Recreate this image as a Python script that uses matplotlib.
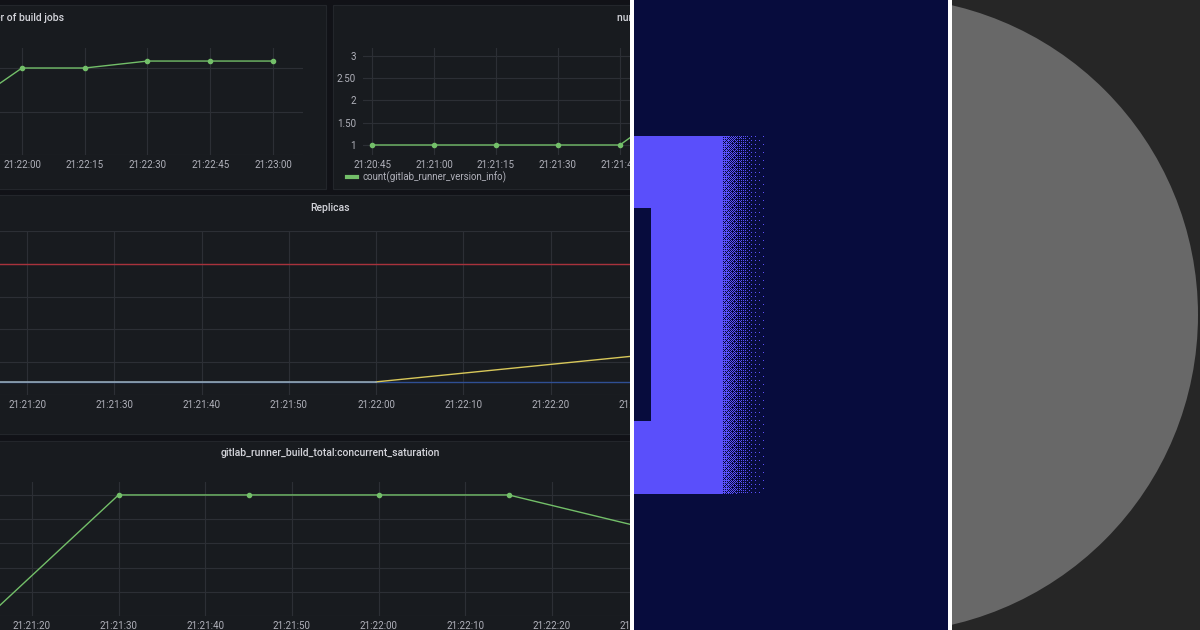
import matplotlib
matplotlib.use("Agg")
import matplotlib.pyplot as plt
import numpy as np
from matplotlib.patches import Rectangle, Circle
from matplotlib.lines import Line2D

plt.rcParams['font.family'] = ['Roboto', 'DejaVu Sans']

W, H = 1200, 630

# --- data -------------------------------------------------------------
jobs_times = ["21:21:45", "21:22:00", "21:22:15", "21:22:30", "21:22:45", "21:23:00"]
jobs_values = [2, 3, 3, 3.16, 3.16, 3.16]
jobs_ticks = ["21:22:00", "21:22:15", "21:22:30", "21:22:45", "21:23:00"]

runner_times = ["21:20:45", "21:21:00", "21:21:15", "21:21:30", "21:21:45", "21:22:00"]
runner_values = [1, 1, 1, 1, 1, 2]
runner_ticks = ["21:20:45", "21:21:00", "21:21:15", "21:21:30", "21:21:45"]
runner_yticks = [1, 1.5, 2, 2.5, 3]
runner_ylabels = ["1", "1.50", "2", "2.50", "3"]

rep_times = ["21:21:00", "21:21:15", "21:21:30", "21:21:45", "21:22:00", "21:22:15", "21:22:30", "21:22:45"]
rep_max = [10, 10, 10, 10, 10, 10, 10, 10]
rep_min = [1, 1, 1, 1, 1, 1, 1, 1]
rep_current = [1, 1, 1, 1, 1, None, None, None]
rep_desired = [None, None, None, None, 1, 2, 3, 4]
rep_ticks = ["21:21:20", "21:21:30", "21:21:40", "21:21:50", "21:22:00", "21:22:10", "21:22:20", "21:22:30"]

sat_times = ["21:21:15", "21:21:30", "21:21:45", "21:22:00", "21:22:15", "21:22:30"]
sat_values = [0, 1, 1, 1, 1, 0.74]
sat_ticks = rep_ticks


def secs(s):
    h, m, sec = map(int, s.split(":"))
    return h * 3600 + m * 60 + sec


def series(times, values):
    x = np.array([secs(t) for t in times], dtype=float)
    y = np.array([np.nan if v is None else v for v in values], dtype=float)
    return x, y


# --- colours ----------------------------------------------------------
PAGE = "#111217"
PANEL = "#181b1f"
BORDER = "#23262b"
GRID = "#2c2f35"
TXT = "#d4d5db"
TICK = "#b0b1ba"
GREEN = "#73bf69"

fig = plt.figure(figsize=(12, 6.3), dpi=100, facecolor=PAGE)


def px_axes(x0, y0, x1, y1, **kw):
    return fig.add_axes([x0 / W, 1 - y1 / H, (x1 - x0) / W, (y1 - y0) / H], **kw)


# background panels
bg = px_axes(0, 0, W, H, zorder=-5)
bg.set_xlim(0, W)
bg.set_ylim(H, 0)
bg.axis("off")
for (x0, y0, x1, y1) in [(-10, 5, 326, 189), (333, 5, 700, 189),
                         (-10, 195, 700, 434), (-10, 441, 700, 700)]:
    bg.add_patch(Rectangle((x0, y0), x1 - x0, y1 - y0, facecolor=PANEL,
                           edgecolor=BORDER, lw=0.8))


def style(ax, ticks, xlim, ylim, yticks):
    ax.set_facecolor("none")
    for s in ax.spines.values():
        s.set_visible(False)
    ax.set_xlim(*xlim)
    ax.set_ylim(*ylim)
    ax.set_xticks([secs(t) for t in ticks])
    ax.set_xticklabels(ticks)
    ax.set_yticks(yticks)
    ax.tick_params(length=0, labelsize=7, labelcolor=TICK, pad=3.5)
    ax.grid(True, color=GRID, lw=0.8)
    ax.set_axisbelow(True)


# panel A: build jobs
axA = px_axes(-103.5, 48, 303, 155)
style(axA, jobs_ticks, (secs("21:21:30"), secs("21:23:00") + 7.2), (1, 3.46), [1, 2, 3])
axA.set_yticklabels([])
x, y = series(jobs_times, jobs_values)
axA.plot(x, y, color=GREEN, lw=1.0, marker="o", ms=3)
fig.text(64 / W, 1 - 18 / H, "Number of build jobs", ha="right", va="center",
         color=TXT, fontsize=7.5, fontweight="medium")

# panel B: runners
axB = px_axes(363, 48, 700, 155)
style(axB, runner_ticks, (secs("21:20:45") - 2.18, secs("21:20:45") + 79.4),
      (0.775, 3.18), runner_yticks)
axB.set_yticklabels(runner_ylabels)
axB.tick_params(axis="y", pad=5)
x, y = series(runner_times, runner_values)
axB.plot(x, y, color=GREEN, lw=1.0, marker="o", ms=3)
axB.legend(handles=[Line2D([], [], color=GREEN, lw=3)],
           labels=["count(gitlab_runner_version_info)"],
           loc="center left", bbox_to_anchor=(347 / W, 1 - 177 / H),
           bbox_transform=fig.transFigure, frameon=False, handlelength=1.0,
           handletextpad=0.6, fontsize=7, labelcolor=TICK, borderaxespad=0,
           borderpad=0)
fig.text(617 / W, 1 - 18 / H, "number of runners", ha="left", va="center",
         color=TXT, fontsize=7.5, fontweight="medium")

# panel C: replicas
axC = px_axes(-150, 231, 700, 395)
style(axC, rep_ticks, (secs("21:21:20") - 20.29, secs("21:21:20") + 77.13),
      (0, 12.5), [0, 2.5, 5, 7.5, 10, 12.5])
axC.set_yticklabels([])
x, y = series(rep_times, rep_max)
axC.plot(x, y, color="#a8323c", lw=1.0)
x, y = series(rep_times, rep_min)
axC.plot(x, y, color="#2f4f94", lw=1.0)
x, y = series(rep_times, rep_desired)
axC.plot(x, y, color="#d8c85a", lw=1.0)
x, y = series(rep_times, rep_current)
axC.plot(x, y, color="#93a6b2", lw=1.2)
fig.text(330 / W, 1 - 208 / H, "Replicas", ha="center", va="center",
         color=TXT, fontsize=7.5, fontweight="medium")

# panel D: concurrent saturation
axD = px_axes(-150, 482, 700, 616)
style(axD, sat_ticks, (secs("21:21:20") - 20.97, secs("21:21:20") + 77.07),
      (0, 1.107), [0, 0.2, 0.4, 0.6, 0.8, 1.0])
axD.set_yticklabels([])
x, y = series(sat_times, sat_values)
axD.plot(x, y, color=GREEN, lw=1.0, marker="o", ms=3)
fig.text(330 / W, 1 - 453 / H, "gitlab_runner_build_total:concurrent_saturation",
         ha="center", va="center", color=TXT, fontsize=7.5, fontweight="medium")

# --- right-hand artwork -------------------------------------------------
NAVY = "#070c3d"
PURPLE = "#5a4ffb"
ov = px_axes(630, 0, W, H, zorder=10)
ov.set_xlim(630, W)
ov.set_ylim(H, 0)
ov.axis("off")
ov.add_patch(Rectangle((952, 0), 248, H, facecolor="#262626", lw=0, zorder=1))
disc = Circle((880, 315), 318, facecolor="#686868", lw=0, zorder=2)
ov.add_patch(disc)
ov.add_patch(Rectangle((634, 0), 314, H, facecolor=NAVY, lw=0, zorder=3))
ov.add_patch(Rectangle((630, 0), 4, H, facecolor="white", lw=0, zorder=4))
ov.add_patch(Rectangle((948, 0), 4, H, facecolor="white", lw=0, zorder=4))
ov.add_patch(Rectangle((634, 136), 89, 358, facecolor=PURPLE, lw=0, zorder=5))
ov.add_patch(Rectangle((634, 208), 17, 213, facecolor=NAVY, lw=0, zorder=6))

# dithered fade on the right edge of the purple block (ordered dither)
bayer = np.array([[0, 32, 8, 40, 2, 34, 10, 42],
                  [48, 16, 56, 24, 50, 18, 58, 26],
                  [12, 44, 4, 36, 14, 46, 6, 38],
                  [60, 28, 52, 20, 62, 30, 54, 22],
                  [3, 35, 11, 43, 1, 33, 9, 41],
                  [51, 19, 59, 27, 49, 17, 57, 25],
                  [15, 47, 7, 39, 13, 45, 5, 37],
                  [63, 31, 55, 23, 61, 29, 53, 21]]) / 64.0
fw, fh = 42, 358
u = (np.arange(fw) + 0.5) / fw
density = 0.75 * (1 - u) ** 1.8
thr = np.tile(bayer, (fh // 8 + 1, fw // 8 + 1))[:fh, :fw]
mask = density[None, :] > thr
c_p = np.array(matplotlib.colors.to_rgb(PURPLE))
c_n = np.array(matplotlib.colors.to_rgb(NAVY))
img = np.where(mask[..., None], c_p, c_n)
ov.imshow(img, extent=(723, 723 + fw, 136 + fh, 136), interpolation="bilinear",
          zorder=5, aspect="auto")
ov.set_xlim(630, W)
ov.set_ylim(H, 0)

fig.savefig("out.png", dpi=100, facecolor=PAGE)
